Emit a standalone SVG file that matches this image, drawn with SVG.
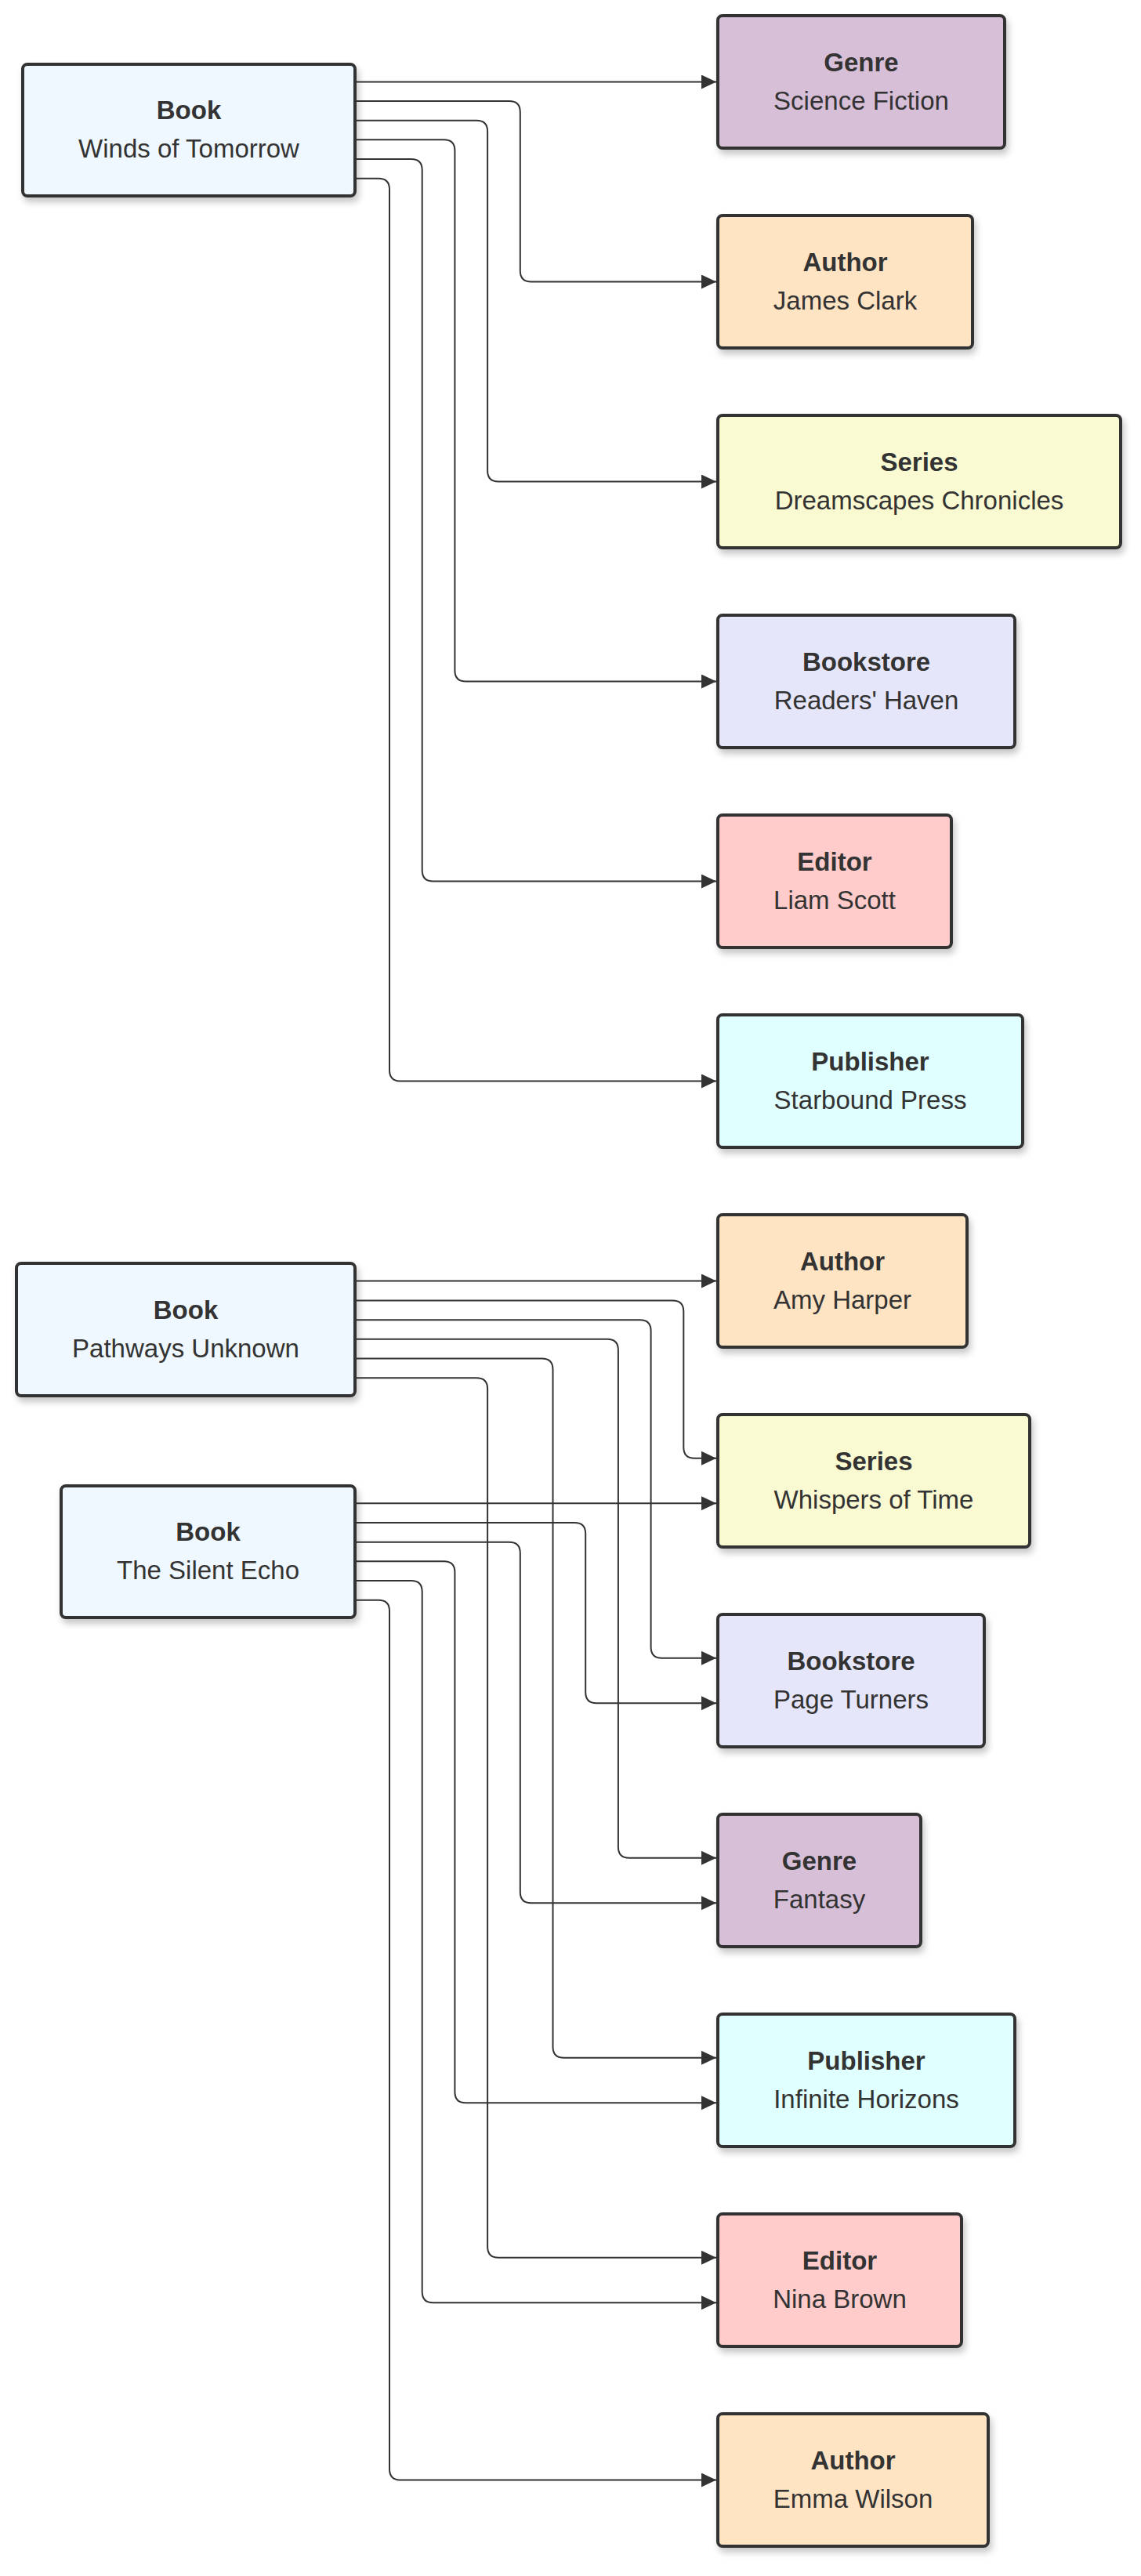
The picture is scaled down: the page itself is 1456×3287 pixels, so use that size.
<svg xmlns="http://www.w3.org/2000/svg" width="1456" height="3287" viewBox="0 0 1456 3287">
<defs>
<style>
.n rect{stroke:#333;stroke-width:4;filter:url(#sh)}
.t{font-family:"Liberation Sans",Arial,sans-serif;font-size:33px;fill:#333;text-anchor:middle}
.b{font-weight:bold}
.e path{fill:none;stroke:#333;stroke-width:2;marker-end:url(#arr)}
.book{fill:#F0F8FF}.genre{fill:#D8BFD8}.author{fill:#FFE4C4}.series{fill:#FAFAD2}.store{fill:#E6E6FA}.editor{fill:#FFCCCB}.pub{fill:#E0FFFF}
</style>
<filter id="sh" x="-10%" y="-10%" width="130%" height="140%"><feDropShadow dx="3" dy="6" stdDeviation="4" flood-color="#000" flood-opacity="0.22"/></filter>
<marker id="arr" viewBox="0 0 19 18" refX="19" refY="9" markerWidth="19" markerHeight="18" markerUnits="userSpaceOnUse" orient="auto"><path d="M0,0 L19,9 L0,18 z" fill="#333"/></marker>
</defs>
<rect width="1456" height="3287" fill="#fff"/>
<g id="nodes">
<g id="book1" class="n"><rect class="book" x="29" y="82" width="424" height="168" rx="6"/><text class="t b" x="241" y="152">Book</text><text class="t" x="241" y="201">Winds of Tomorrow</text></g>
<g id="book2" class="n"><rect class="book" x="21" y="1612" width="432" height="169" rx="6"/><text class="t b" x="237" y="1682.5">Book</text><text class="t" x="237" y="1731.5">Pathways Unknown</text></g>
<g id="book3" class="n"><rect class="book" x="78" y="1896" width="375" height="168" rx="6"/><text class="t b" x="265.5" y="1966">Book</text><text class="t" x="265.5" y="2015">The Silent Echo</text></g>
<g id="genre1" class="n"><rect class="genre" x="916" y="20" width="366" height="169" rx="6"/><text class="t b" x="1099" y="90.5">Genre</text><text class="t" x="1099" y="139.5">Science Fiction</text></g>
<g id="author1" class="n"><rect class="author" x="916" y="275" width="325" height="169" rx="6"/><text class="t b" x="1078.5" y="345.5">Author</text><text class="t" x="1078.5" y="394.5">James Clark</text></g>
<g id="series1" class="n"><rect class="series" x="916" y="530" width="514" height="169" rx="6"/><text class="t b" x="1173" y="600.5">Series</text><text class="t" x="1173" y="649.5">Dreamscapes Chronicles</text></g>
<g id="store1" class="n"><rect class="store" x="916" y="785" width="379" height="169" rx="6"/><text class="t b" x="1105.5" y="855.5">Bookstore</text><text class="t" x="1105.5" y="904.5">Readers' Haven</text></g>
<g id="editor1" class="n"><rect class="editor" x="916" y="1040" width="298" height="169" rx="6"/><text class="t b" x="1065" y="1110.5">Editor</text><text class="t" x="1065" y="1159.5">Liam Scott</text></g>
<g id="pub1" class="n"><rect class="pub" x="916" y="1295" width="389" height="169" rx="6"/><text class="t b" x="1110.5" y="1365.5">Publisher</text><text class="t" x="1110.5" y="1414.5">Starbound Press</text></g>
<g id="author2" class="n"><rect class="author" x="916" y="1550" width="318" height="169" rx="6"/><text class="t b" x="1075" y="1620.5">Author</text><text class="t" x="1075" y="1669.5">Amy Harper</text></g>
<g id="series2" class="n"><rect class="series" x="916" y="1805" width="398" height="169" rx="6"/><text class="t b" x="1115" y="1875.5">Series</text><text class="t" x="1115" y="1924.5">Whispers of Time</text></g>
<g id="store2" class="n"><rect class="store" x="916" y="2060" width="340" height="169" rx="6"/><text class="t b" x="1086" y="2130.5">Bookstore</text><text class="t" x="1086" y="2179.5">Page Turners</text></g>
<g id="genre2" class="n"><rect class="genre" x="916" y="2315" width="259" height="169" rx="6"/><text class="t b" x="1045.5" y="2385.5">Genre</text><text class="t" x="1045.5" y="2434.5">Fantasy</text></g>
<g id="pub2" class="n"><rect class="pub" x="916" y="2570" width="379" height="169" rx="6"/><text class="t b" x="1105.5" y="2640.5">Publisher</text><text class="t" x="1105.5" y="2689.5">Infinite Horizons</text></g>
<g id="editor2" class="n"><rect class="editor" x="916" y="2825" width="311" height="169" rx="6"/><text class="t b" x="1071.5" y="2895.5">Editor</text><text class="t" x="1071.5" y="2944.5">Nina Brown</text></g>
<g id="author3" class="n"><rect class="author" x="916" y="3080" width="345" height="169" rx="6"/><text class="t b" x="1088.5" y="3150.5">Author</text><text class="t" x="1088.5" y="3199.5">Emma Wilson</text></g>
</g>
<g id="connectors" class="e">
<path d="M455,104.5 H914"/>
<path d="M455,128.95 H649.8 Q663.8,128.95 663.8,142.95 V345.5 Q663.8,359.5 677.8,359.5 H914"/>
<path d="M455,153.65 H608.1 Q622.1,153.65 622.1,167.65 V600.5 Q622.1,614.5 636.1,614.5 H914"/>
<path d="M455,178.35 H566.4 Q580.4,178.35 580.4,192.35 V855.5 Q580.4,869.5 594.4,869.5 H914"/>
<path d="M455,203.05 H524.7 Q538.7,203.05 538.7,217.05 V1110.5 Q538.7,1124.5 552.7,1124.5 H914"/>
<path d="M455,227.75 H483 Q497,227.75 497,241.75 V1365.5 Q497,1379.5 511,1379.5 H914"/>
<path d="M455,1634.5 H914"/>
<path d="M455,1659.45 H858.3 Q872.3,1659.45 872.3,1673.45 V1846.75 Q872.3,1860.75 886.3,1860.75 H914"/>
<path d="M455,1684.15 H816.6 Q830.6,1684.15 830.6,1698.15 V2101.75 Q830.6,2115.75 844.6,2115.75 H914"/>
<path d="M455,1708.85 H774.9 Q788.9,1708.85 788.9,1722.85 V2356.75 Q788.9,2370.75 802.9,2370.75 H914"/>
<path d="M455,1733.55 H691.5 Q705.5,1733.55 705.5,1747.55 V2611.75 Q705.5,2625.75 719.5,2625.75 H914"/>
<path d="M455,1758.25 H608.1 Q622.1,1758.25 622.1,1772.25 V2866.75 Q622.1,2880.75 636.1,2880.75 H914"/>
<path d="M455,1918.25 H914"/>
<path d="M455,1942.95 H733.2 Q747.2,1942.95 747.2,1956.95 V2159.25 Q747.2,2173.25 761.2,2173.25 H914"/>
<path d="M455,1967.65 H649.8 Q663.8,1967.65 663.8,1981.65 V2414.25 Q663.8,2428.25 677.8,2428.25 H914"/>
<path d="M455,1992.35 H566.4 Q580.4,1992.35 580.4,2006.35 V2669.25 Q580.4,2683.25 594.4,2683.25 H914"/>
<path d="M455,2017.05 H524.7 Q538.7,2017.05 538.7,2031.05 V2924.25 Q538.7,2938.25 552.7,2938.25 H914"/>
<path d="M455,2041.75 H483 Q497,2041.75 497,2055.75 V3150.5 Q497,3164.5 511,3164.5 H914"/>
</g>
</svg>
